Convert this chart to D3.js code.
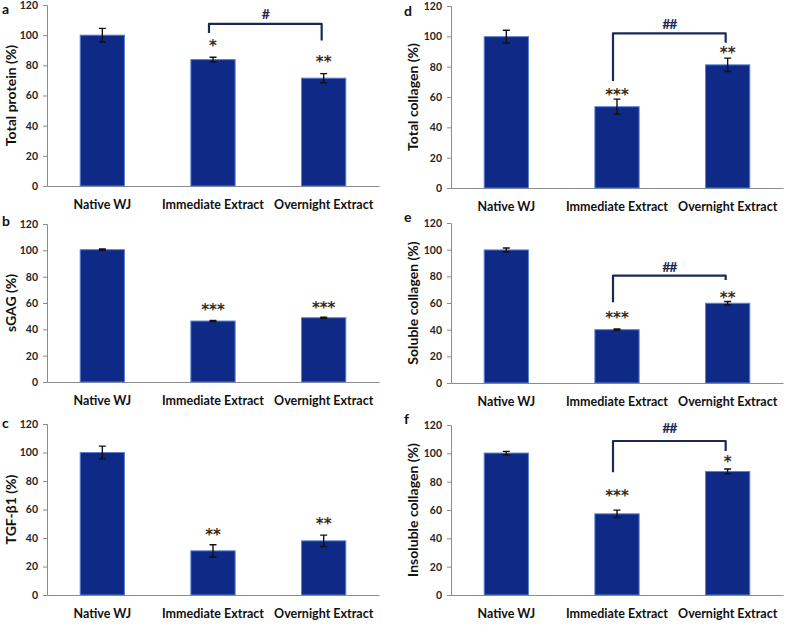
<!DOCTYPE html>
<html>
<head>
<meta charset="utf-8">
<script src="https://cdn.jsdelivr.net/npm/d3@7"></script>
<style>
  html, body { margin: 0; padding: 0; background: #fff; }
  svg { display: block; }
</style>
</head>
<body>
<svg id="chart" width="785" height="628"></svg>
<script>
// categories shared by every panel
const categories = ['Native WJ', 'Immediate Extract', 'Overnight Extract'];
const yTicks = [0, 20, 40, 60, 80, 100, 120];

// mean (%) and error per panel
const totalProtein = [100, 83.8, 71.5];
const totalProteinErr = [4.5, 1.6, 3.0];
const sGAG = [100.5, 46.3, 48.8];
const sGAGErr = [0.5, 0.4, 0.4];
const tgfB1 = [100, 31, 38];
const tgfB1Err = [4.5, 4.3, 4.0];
const totalCollagen = [99.8, 53.6, 81.2];
const totalCollagenErr = [4.2, 5.0, 4.4];
const solubleCollagen = [99.8, 40, 59.8];
const solubleCollagenErr = [1.5, 0.5, 1.3];
const insolubleCollagen = [100.2, 57.3, 87.2];
const insolubleCollagenErr = [1.2, 2.6, 1.7];

// significance marks vs Native WJ and the level (data units) where they sit
const starsA = ['', '*', '**'];
const starLevelA = [0, 95, 84.5];
const starsB = ['', '***', '***'];
const starLevelB = [0, 57, 59];
const starsC = ['', '**', '**'];
const starLevelC = [0, 44.5, 52];
const starsD = ['', '***', '**'];
const starLevelD = [0, 63.5, 91];
const starsE = ['', '***', '**'];
const starLevelE = [0, 51, 66];
const starsF = ['', '***', '*'];
const starLevelF = [0, 72.5, 96.5];

// Immediate vs Overnight bracket: bar level, left leg end, right leg end, label level
const bracketA = { label: '#', level: 107.5, left: 101.5, right: 96.5, text: 114 };
const bracketD = { label: '##', level: 102, left: 70.5, right: 95.8, text: 108 };
const bracketE = { label: '##', level: 80.6, left: 60.5, right: 77.3, text: 87 };
const bracketF = { label: '##', level: 108.7, left: 86.6, right: 101.6, text: 117.5 };

// panel layout (pixels)
const panels = [
  { id: 'a', title: 'Total protein (%)', values: totalProtein, errs: totalProteinErr, stars: starsA, starLevel: starLevelA, bracket: bracketA,
    x0: 47, y0: 186, y1: 5, titleX: 11, letterY: 14 },
  { id: 'b', title: 'sGAG (%)', values: sGAG, errs: sGAGErr, stars: starsB, starLevel: starLevelB, bracket: null,
    x0: 47, y0: 382, y1: 224, titleX: 11, letterY: 226 },
  { id: 'c', title: 'TGF-\u03B21 (%)', values: tgfB1, errs: tgfB1Err, stars: starsC, starLevel: starLevelC, bracket: null,
    x0: 47, y0: 595, y1: 424, titleX: 11, letterY: 428 },
  { id: 'd', title: 'Total collagen (%)', values: totalCollagen, errs: totalCollagenErr, stars: starsD, starLevel: starLevelD, bracket: bracketD,
    x0: 451, y0: 188, y1: 6, titleX: 413, letterY: 16 },
  { id: 'e', title: 'Soluble collagen (%)', values: solubleCollagen, errs: solubleCollagenErr, stars: starsE, starLevel: starLevelE, bracket: bracketE,
    x0: 451, y0: 383, y1: 223, titleX: 413, letterY: 222 },
  { id: 'f', title: 'Insoluble collagen (%)', values: insolubleCollagen, errs: insolubleCollagenErr, stars: starsF, starLevel: starLevelF, bracket: bracketF,
    x0: 451, y0: 595, y1: 425, titleX: 413, letterY: 424 }
];

const colors = {
  bar: '#0e2a86',
  barEdge: '#5b82cf',
  axis: '#8c8c8c',
  tick: '#262626',
  title: '#111',
  star: '#3a2a12',
  bracket: '#1b2a55'
};
const FONT = 'Lato, "Liberation Sans", sans-serif';
const svg = d3.select('#chart');

panels.forEach(p => drawPanel(p));

function drawPanel(p) {
  const g = svg.append('g').attr('class', 'panel-' + p.id);

  const x = d3.scaleBand()
    .domain(categories)
    .range([p.x0, p.x0 + 332])
    .paddingInner(0.6)
    .paddingOuter(0.3);

  const y = d3.scaleLinear().domain([0, 120]).range([p.y0, p.y1]);

  // y axis
  const yAxis = g.append('g')
    .attr('transform', `translate(${p.x0},0)`)
    .call(d3.axisLeft(y).tickValues(yTicks).tickSize(4).tickPadding(5));
  yAxis.select('.domain').attr('stroke', colors.axis);
  yAxis.selectAll('.tick line').attr('stroke', colors.axis);
  yAxis.selectAll('.tick text')
    .attr('fill', colors.tick)
    .style('font-family', FONT)
    .style('font-size', '10.5px')
    .style('font-weight', 'bold');

  // x axis (line only + labels)
  const xAxis = g.append('g')
    .attr('transform', `translate(0,${p.y0})`)
    .call(d3.axisBottom(x).tickSize(0).tickPadding(14));
  xAxis.select('.domain').attr('stroke', colors.axis);
  xAxis.selectAll('.tick text')
    .attr('fill', colors.title)
    .style('font-family', FONT)
    .style('font-size', '12.5px')
    .style('font-weight', 'bold');

  const rows = categories.map((c, i) => ({ c, v: p.values[i], e: p.errs[i], s: p.stars[i], sl: p.starLevel[i] }));

  // bars
  g.selectAll('.bar')
    .data(rows)
    .join('rect')
    .attr('class', 'bar')
    .attr('x', d => x(d.c))
    .attr('width', x.bandwidth())
    .attr('y', d => y(d.v))
    .attr('height', d => y(0) - y(d.v))
    .attr('fill', colors.bar)
    .attr('stroke', colors.barEdge)
    .attr('stroke-width', 1);

  // error bars
  const cap = 3.5;
  g.selectAll('.err')
    .data(rows)
    .join('path')
    .attr('class', 'err')
    .attr('d', d => {
      const cx = x(d.c) + x.bandwidth() / 2;
      const t = y(d.v + d.e), b = y(d.v - d.e);
      return `M${cx - cap},${t}H${cx + cap}M${cx},${t}V${b}M${cx - cap},${b}H${cx + cap}`;
    })
    .attr('fill', 'none')
    .attr('stroke', '#111')
    .attr('stroke-width', 1.4);

  // significance stars
  g.selectAll('.star')
    .data(rows.filter(d => d.s))
    .join('text')
    .attr('class', 'star')
    .attr('x', d => x(d.c) + x.bandwidth() / 2)
    .attr('y', d => y(d.sl))
    .attr('dy', '0.55em')
    .attr('text-anchor', 'middle')
    .attr('fill', colors.star)
    .style('font-family', '"DejaVu Sans", sans-serif')
    .style('font-size', '15px')
    .style('font-weight', 'bold')
    .text(d => d.s);

  // bracket between Immediate and Overnight
  if (p.bracket) {
    const br = p.bracket;
    const xl = x(categories[1]) + x.bandwidth() / 2 - 4;
    const xr = x(categories[2]) + x.bandwidth() / 2 - 2;
    g.append('path')
      .attr('d', `M${xl},${y(br.left)}V${y(br.level)}H${xr}V${y(br.right)}`)
      .attr('fill', 'none')
      .attr('stroke', colors.bracket)
      .attr('stroke-width', 2.2)
      .attr('stroke-linejoin', 'round');
    g.append('text')
      .attr('x', (xl + xr) / 2)
      .attr('y', y(br.text))
      .attr('dy', '0.35em')
      .attr('text-anchor', 'middle')
      .attr('fill', colors.bracket)
      .style('font-family', FONT)
      .style('font-size', '14px')
      .style('font-weight', 'bold')
      .style('letter-spacing', '-1px')
      .text(br.label);
  }

  // y axis title
  const midY = (p.y0 + p.y1) / 2;
  g.append('text')
    .attr('transform', `translate(${p.titleX},${midY}) rotate(-90)`)
    .attr('dy', '0.35em')
    .attr('text-anchor', 'middle')
    .attr('fill', colors.title)
    .style('font-family', FONT)
    .style('font-size', '14px')
    .style('font-weight', 'bold')
    .text(p.title);

  // panel letter
  g.append('text')
    .attr('x', p.x0 === 47 ? 2 : 404)
    .attr('y', p.letterY)
    .attr('fill', colors.title)
    .style('font-family', FONT)
    .style('font-size', '14px')
    .style('font-weight', 'bold')
    .text(p.id);
}
</script>
</body>
</html>
